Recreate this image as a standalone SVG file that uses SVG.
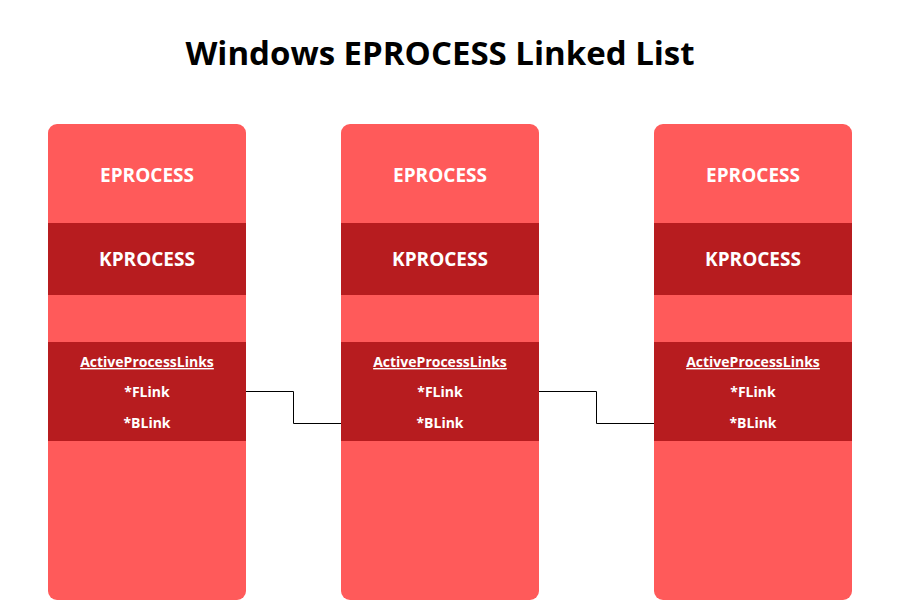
<svg xmlns="http://www.w3.org/2000/svg" width="900" height="616" viewBox="0 0 900 616">
<style>
.body{fill:#ff5a5a}
.band{fill:#b71c1f}
text{font-family:"Open Sans","Liberation Sans",sans-serif;font-weight:bold;fill:#fff;text-anchor:middle}
.h{font-size:19px}
.s{font-size:14px}
.u{text-decoration:underline}
.title{fill:#000;font-size:33px}
.c{fill:none;stroke:#000;stroke-width:1}
</style>
<rect width="900" height="616" fill="#fff"/>
<text class="title" x="440" y="65">Windows EPROCESS Linked List</text>
<g id="connectors">
<polyline class="c" points="246,391.5 293.5,391.5 293.5,423.5 341,423.5"/>
<polyline class="c" points="539,391.5 596.5,391.5 596.5,423.5 654,423.5"/>
</g>
<g id="node1">
<rect class="body" x="48" y="124" width="198" height="476" rx="9"/>
<rect class="band" x="48" y="223" width="198" height="72"/>
<rect class="band" x="48" y="342" width="198" height="99"/>
<text class="h" x="147" y="182">EPROCESS</text>
<text class="h" x="147" y="266">KPROCESS</text>
<text class="s u" x="147" y="367">ActiveProcessLinks</text>
<text class="s" x="147" y="397">*FLink</text>
<text class="s" x="147" y="428">*BLink</text>
</g>
<g id="node2">
<rect class="body" x="341" y="124" width="198" height="476" rx="9"/>
<rect class="band" x="341" y="223" width="198" height="72"/>
<rect class="band" x="341" y="342" width="198" height="99"/>
<text class="h" x="440" y="182">EPROCESS</text>
<text class="h" x="440" y="266">KPROCESS</text>
<text class="s u" x="440" y="367">ActiveProcessLinks</text>
<text class="s" x="440" y="397">*FLink</text>
<text class="s" x="440" y="428">*BLink</text>
</g>
<g id="node3">
<rect class="body" x="654" y="124" width="198" height="476" rx="9"/>
<rect class="band" x="654" y="223" width="198" height="72"/>
<rect class="band" x="654" y="342" width="198" height="99"/>
<text class="h" x="753" y="182">EPROCESS</text>
<text class="h" x="753" y="266">KPROCESS</text>
<text class="s u" x="753" y="367">ActiveProcessLinks</text>
<text class="s" x="753" y="397">*FLink</text>
<text class="s" x="753" y="428">*BLink</text>
</g>
</svg>
